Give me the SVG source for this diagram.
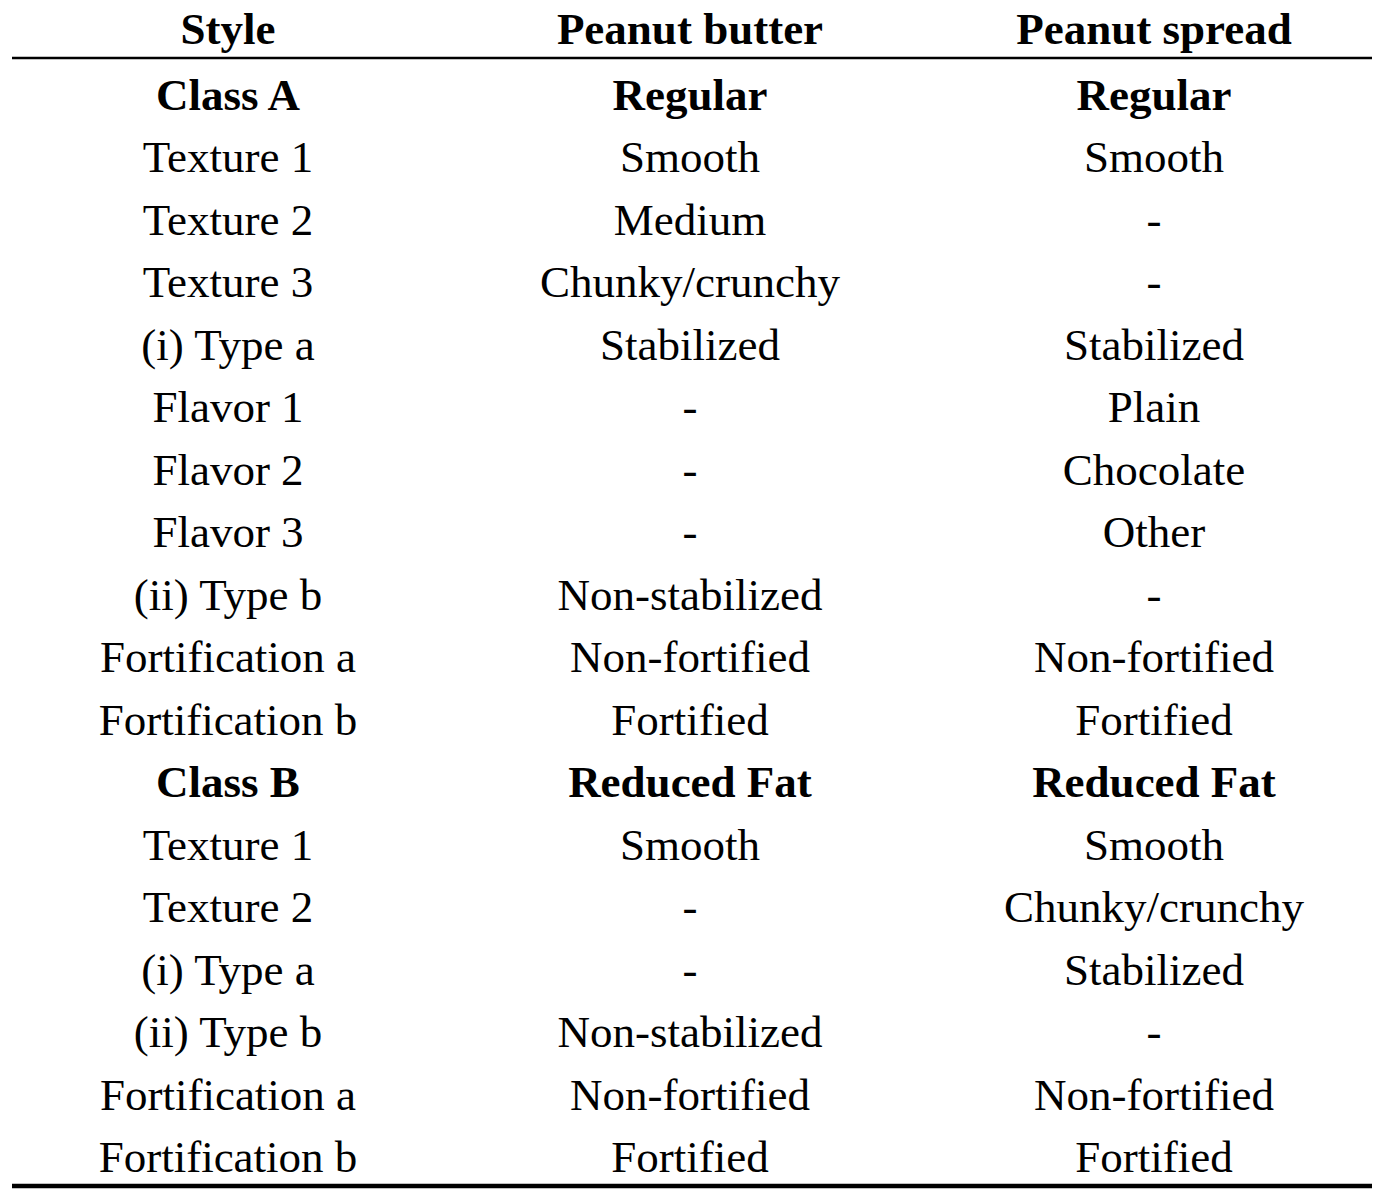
<svg xmlns="http://www.w3.org/2000/svg" width="1390" height="1191" viewBox="0 0 1390 1191">
<style>
text{font-family:"Liberation Serif","Times New Roman",serif;font-size:45px;text-anchor:middle;fill:#000}
.b{font-weight:bold}
</style>
<rect width="1390" height="1191" fill="#fff"/>
<g id="rules">
<line x1="12" y1="58" x2="1372" y2="58" stroke="#000" stroke-width="2.5"/>
<line x1="12" y1="1186" x2="1372" y2="1186" stroke="#000" stroke-width="4.5"/>
</g>
<g id="header" class="b">
<text x="228" y="44" class="b">Style</text><text x="690" y="44" class="b">Peanut butter</text><text x="1154" y="44" class="b">Peanut spread</text>
</g>
<g id="body">
<text x="228" y="110" class="b">Class A</text><text x="690" y="110" class="b">Regular</text><text x="1154" y="110" class="b">Regular</text>
<text x="228" y="172">Texture 1</text><text x="690" y="172">Smooth</text><text x="1154" y="172">Smooth</text>
<text x="228" y="235">Texture 2</text><text x="690" y="235">Medium</text><text x="1154" y="235">-</text>
<text x="228" y="297">Texture 3</text><text x="690" y="297">Chunky/crunchy</text><text x="1154" y="297">-</text>
<text x="228" y="360">(i) Type a</text><text x="690" y="360">Stabilized</text><text x="1154" y="360">Stabilized</text>
<text x="228" y="422">Flavor 1</text><text x="690" y="422">-</text><text x="1154" y="422">Plain</text>
<text x="228" y="485">Flavor 2</text><text x="690" y="485">-</text><text x="1154" y="485">Chocolate</text>
<text x="228" y="547">Flavor 3</text><text x="690" y="547">-</text><text x="1154" y="547">Other</text>
<text x="228" y="610">(ii) Type b</text><text x="690" y="610">Non-stabilized</text><text x="1154" y="610">-</text>
<text x="228" y="672">Fortification a</text><text x="690" y="672">Non-fortified</text><text x="1154" y="672">Non-fortified</text>
<text x="228" y="735">Fortification b</text><text x="690" y="735">Fortified</text><text x="1154" y="735">Fortified</text>
<text x="228" y="797" class="b">Class B</text><text x="690" y="797" class="b">Reduced Fat</text><text x="1154" y="797" class="b">Reduced Fat</text>
<text x="228" y="860">Texture 1</text><text x="690" y="860">Smooth</text><text x="1154" y="860">Smooth</text>
<text x="228" y="922">Texture 2</text><text x="690" y="922">-</text><text x="1154" y="922">Chunky/crunchy</text>
<text x="228" y="985">(i) Type a</text><text x="690" y="985">-</text><text x="1154" y="985">Stabilized</text>
<text x="228" y="1047">(ii) Type b</text><text x="690" y="1047">Non-stabilized</text><text x="1154" y="1047">-</text>
<text x="228" y="1110">Fortification a</text><text x="690" y="1110">Non-fortified</text><text x="1154" y="1110">Non-fortified</text>
<text x="228" y="1172">Fortification b</text><text x="690" y="1172">Fortified</text><text x="1154" y="1172">Fortified</text>
</g>
</svg>
